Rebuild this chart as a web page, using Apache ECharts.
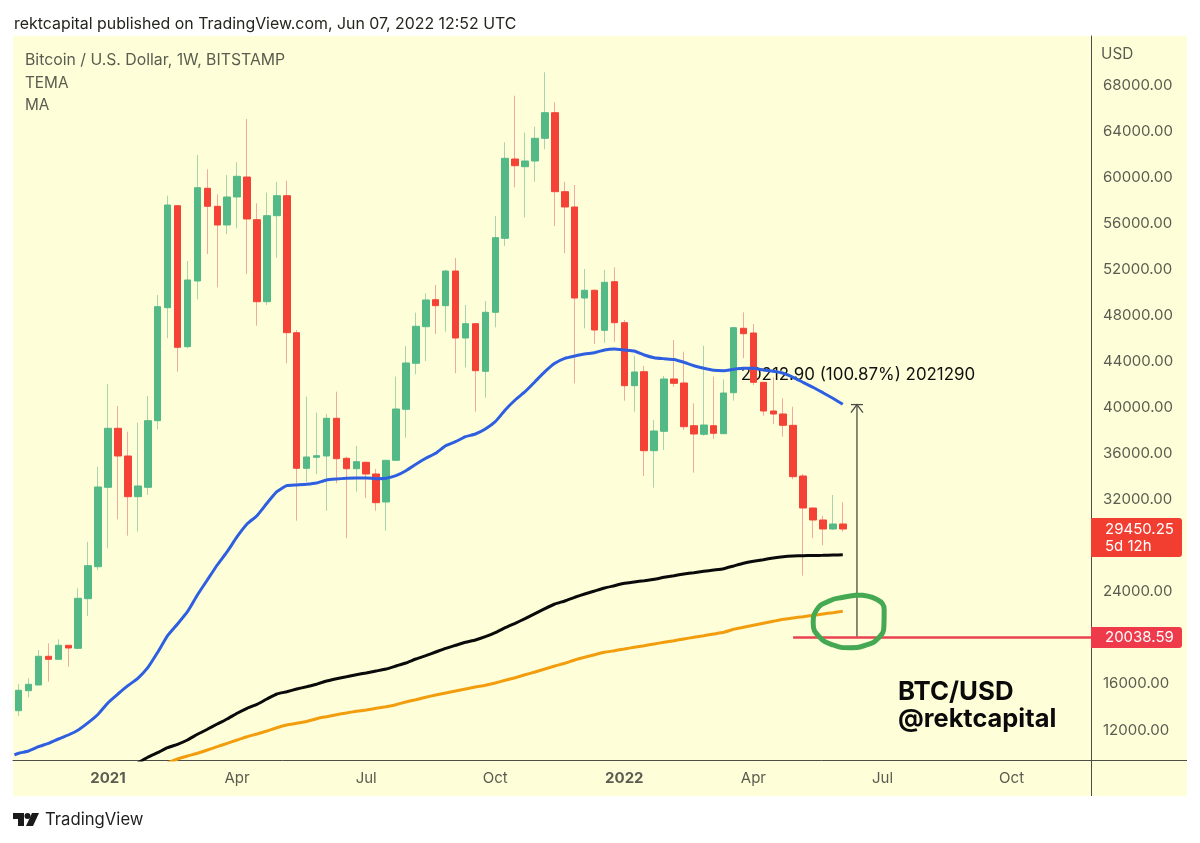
<!DOCTYPE html>
<html><head><meta charset="utf-8">
<style>html,body{margin:0;padding:0;background:#fff}#c{width:1200px;height:843px}</style>
<script src="https://cdn.jsdelivr.net/npm/echarts@6/dist/echarts.min.js"></script>
</head><body><div id="c"></div>
<script>
const weeks=['2020-11-02','2020-11-09','2020-11-16','2020-11-23','2020-11-30','2020-12-07','2020-12-14','2020-12-21','2020-12-28','2021-01-04','2021-01-11','2021-01-18','2021-01-25','2021-02-01','2021-02-08','2021-02-15','2021-02-22','2021-03-01','2021-03-08','2021-03-15','2021-03-22','2021-03-29','2021-04-05','2021-04-12','2021-04-19','2021-04-26','2021-05-03','2021-05-10','2021-05-17','2021-05-24','2021-05-31','2021-06-07','2021-06-14','2021-06-21','2021-06-28','2021-07-05','2021-07-12','2021-07-19','2021-07-26','2021-08-02','2021-08-09','2021-08-16','2021-08-23','2021-08-30','2021-09-06','2021-09-13','2021-09-20','2021-09-27','2021-10-04','2021-10-11','2021-10-18','2021-10-25','2021-11-01','2021-11-08','2021-11-15','2021-11-22','2021-11-29','2021-12-06','2021-12-13','2021-12-20','2021-12-27','2022-01-03','2022-01-10','2022-01-17','2022-01-24','2022-01-31','2022-02-07','2022-02-14','2022-02-21','2022-02-28','2022-03-07','2022-03-14','2022-03-21','2022-03-28','2022-04-04','2022-04-11','2022-04-18','2022-04-25','2022-05-02','2022-05-09','2022-05-16','2022-05-23','2022-05-30','2022-06-06'];
const opens=[13676,15412,15907,18399,18138,19354,19093,23399,26178,33071,38194,35789,32255,33071,38853,48664,57520,45278,50982,59030,57468,55844,58275,60011,56304,49185,56652,58388,46494,34721,35676,35789,39062,35589,34686,35242,34226,31795,35415,39843,43837,47015,49359,48838,51850,46033,47275,43142,48265,54689,61574,60906,61401,63371,65594,58735,57407,49506,50175,46702,50921,47362,41892,43108,36249,37933,42474,42127,38419,37673,38419,37725,41285,46876,46468,42187,39696,39435,38454,34052,31274,30232,29451,29885];
const closes=[15447,15968,18399,18138,19354,19119,23434,26265,33097,38194,35789,32255,33184,38853,48751,57581,45226,51069,59082,57468,55844,58275,60072,56365,49185,56652,58388,46494,34721,35702,35815,39062,35554,34686,35294,34226,31734,35415,39869,43863,47049,49333,48838,51850,46033,47275,43195,48265,54741,61635,60993,61401,63371,65594,58735,57407,49506,50175,46728,50869,47362,41892,43082,36249,37959,42474,42100,38333,37699,38480,37759,41258,46928,46407,42187,39696,39435,38454,33992,31274,30232,29451,29885,29450];
const lows=[13215,14839,15907,16193,18138,17496,19006,21897,25891,27775,30293,28869,29216,32403,38107,46007,43108,45139,49393,53326,50435,55063,55558,51590,47101,48899,53005,43837,30171,33557,34226,31040,33418,28643,32689,32142,31040,29303,35415,37377,42882,44037,46381,46580,42969,43490,39635,40850,46962,54021,59117,56513,59604,62416,55757,53387,42100,46876,45513,45626,45712,40590,39635,34052,33037,36310,41805,38046,34339,37551,37265,37725,40590,44271,41953,39287,38567,37464,33766,25396,28643,28036,29364,29216];
const highs=[15994,16489,18946,19527,19875,19354,24302,28348,34860,42040,40130,37898,38680,40998,49767,58388,57520,52719,61922,60680,58509,60185,61288,65047,57728,58649,59604,59690,46728,40937,39548,39435,41372,35728,36657,35294,34660,35415,42673,45339,48230,49914,50635,51937,52979,48899,47275,49246,56625,63024,67070,63858,64379,69102,66497,59604,59317,52024,50262,51937,52172,47596,44497,43602,38914,42734,45860,44844,40364,45365,42673,42448,46928,48265,47249,42187,42621,40798,40069,34226,31274,30606,32403,31769];
const temaStart='2020-10-30';
const tema=[9830,9977,10177,10550,10845,11219,11566,12000,12634,13363,14370,15126,15846,16489,17409,18746,20187,21203,22271,23721,25023,26325,27480,28782,29885,30606,31682,32689,33210,33271,33332,33445,33705,33792,33853,33879,33879,33818,33853,34079,34512,35068,35589,36023,36683,37030,37464,37699,38133,38767,39782,40651,41372,42240,43108,43837,44271,44471,44644,44757,44992,45078,44992,44905,44558,44323,44236,44167,43924,43629,43403,43229,43195,43316,43403,43403,43255,43142,42969,42621,42187,41753,41285,40798,40277];
const maBlack=[9135,9630,10029,10463,10758,11132,11627,12061,12521,12955,13450,13884,14231,14691,15126,15325,15560,15759,15968,16254,16454,16627,16801,16949,17122,17296,17556,17817,18164,18451,18772,19093,19354,19614,19814,20100,20448,20882,21264,21663,22097,22531,22939,23200,23521,23808,24068,24328,24528,24736,24849,24962,25084,25257,25396,25544,25657,25778,25891,26004,26238,26473,26647,26785,26933,27046,27107,27133,27150,27167,27194,27211];
const maOrange=[9135,9482,9743,9977,10264,10550,10845,11132,11418,11653,11913,12200,12434,12582,12738,12981,13155,13328,13476,13624,13736,13884,14023,14197,14431,14631,14839,15039,15212,15386,15560,15733,15881,16081,16315,16541,16801,17036,17296,17556,17791,18077,18312,18538,18746,18885,19032,19180,19319,19467,19614,19753,19901,20048,20187,20335,20482,20743,20916,21090,21264,21437,21611,21724,21837,21958,22071,22184,22306];
const priceTicks=[12000,16000,24000,32000,36000,40000,44000,48000,52000,56000,60000,64000,68000];
const timeTicks=['2021-01-04','2021-04-05','2021-07-05','2021-10-04','2022-01-03','2022-04-04','2022-07-04','2022-10-03'];
const timeLabels=['2021','Apr','Jul','Oct','2022','Apr','Jul','Oct'];
const priceMin=9395, priceMax=72253;
const viewStart='2020-10-29', viewEnd='2022-11-28';
const lastPrice=29450.25, lastCountdown='5d 12h';
const levelPrice=20038.59, levelStart='2022-05-02';
const arrowDate='2022-06-16', arrowTop=40251.49;
const measureText='20212.90 (100.87%) 2021290', measureDate='2022-03-26', measurePrice=42821;
const circleWeeks=[84.47,86.40,87.17,87.14,86.56,85.40,83.72,82.04,80.63,80.02,80.36,81.70,83.04,84.47];
const circlePrices=[23721,23347,22418,20969,19961,19380,19145,19380,20100,21264,22418,23226,23521,23721];

const T=s=>Date.parse(s+'T00:00:00Z');
const tMin=T(viewStart), tMax=T(viewEnd), t0=T(weeks[0]);
const WEEK=7*864e5;
const FONT='Inter, "Noto Sans", sans-serif';
const INK='#5b5b50', AXIS='#4d4d47', UP='#53b987', DOWN='#f44336', UPW='#a9d3ae', DOWNW='#f0aaa2';

const wickData=weeks.map((w,i)=>[T(w),opens[i],closes[i],lows[i],highs[i]]);
const bodyData=weeks.map((w,i)=>[T(w),opens[i],closes[i],Math.min(opens[i],closes[i]),Math.max(opens[i],closes[i])]);
const temaData=[[T(temaStart),tema[0]]].concat(weeks.map((w,i)=>[T(w),tema[i+1]]));
const blackData=maBlack.map((v,i)=>[T(weeks[12+i]),v]);
const orangeData=maOrange.map((v,i)=>[T(weeks[15+i]),v]);
const circleData=circleWeeks.map((w,i)=>[t0+w*WEEK,circlePrices[i]]);
const tickTimes=timeTicks.map(T);
const tags=[
 {p:lastPrice,lines:[lastPrice.toFixed(2),lastCountdown],fill:'#f23d31',top:11,h:39},
 {p:levelPrice,lines:[levelPrice.toFixed(2)],fill:'#ee3a4a',top:10.5,h:21}
];
const txt=(x,y,text,font,fill,extra)=>({type:'text',style:Object.assign({x,y,text,font,fill,textVerticalAlign:'middle'},extra||{})});
const chart=echarts.init(document.getElementById('c'),null,{renderer:'canvas'});
chart.setOption({
 animation:false,backgroundColor:'#fff',
 grid:{left:13,right:109,top:36,bottom:83,containLabel:false},
 xAxis:{type:'value',min:tMin,max:tMax,splitLine:{show:false},
  axisLine:{show:true,onZero:false,lineStyle:{color:AXIS,width:1}},axisTick:{show:false},
  axisLabel:{customValues:tickTimes,margin:11,color:INK,fontFamily:FONT,fontSize:15,hideOverlap:false,
   formatter:v=>{const l=timeLabels[tickTimes.indexOf(+v)]||'';return /^\d+$/.test(l)?'{b|'+l+'}':l;},
   rich:{b:{fontWeight:700,fontFamily:FONT,fontSize:15,color:INK}}}},
 yAxis:{type:'value',position:'right',min:priceMin,max:priceMax,splitLine:{show:false},
  axisLine:{show:true,onZero:false,lineStyle:{color:AXIS,width:1}},axisTick:{show:false},
  axisLabel:{customValues:priceTicks,margin:12,color:INK,fontFamily:FONT,fontSize:15,align:'left',formatter:v=>Number(v).toFixed(2)}},
 graphic:{elements:[
  {type:'rect',z:-10,silent:true,shape:{x:13,y:36,width:1174,height:760},style:{fill:'#feffd9'}},
  {type:'line',z:-5,shape:{x1:1091.5,y1:760,x2:1091.5,y2:796},style:{stroke:AXIS,lineWidth:1}},
  {type:'line',z:-5,shape:{x1:1091,y1:760.5,x2:1187,y2:760.5},style:{stroke:AXIS,lineWidth:1}},
  {type:'text',x:14,y:24,style:{text:'rektcapital published on TradingView.com, Jun 07, 2022 12:52 UTC',font:'15.9px '+FONT,fill:'#26261f',textVerticalAlign:'middle'}},
  {type:'text',x:25,y:60,style:{text:'Bitcoin / U.S. Dollar, 1W, BITSTAMP',font:'15.8px '+FONT,fill:INK,textVerticalAlign:'middle'}},
  {type:'text',x:25,y:83,style:{text:'TEMA',font:'15.3px '+FONT,fill:INK,textVerticalAlign:'middle'}},
  {type:'text',x:25,y:105,style:{text:'MA',font:'15.3px '+FONT,fill:INK,textVerticalAlign:'middle'}},
  {type:'text',x:1101,y:54,style:{text:'USD',font:'15.3px '+FONT,fill:INK,textVerticalAlign:'middle'}},
  {type:'text',x:898,y:692,style:{text:'BTC/USD',font:'700 25.8px '+FONT,fill:'#0a0a0a',textVerticalAlign:'middle'}},
  {type:'text',x:898,y:719,style:{text:'@rektcapital',font:'700 25.4px '+FONT,fill:'#0a0a0a',textVerticalAlign:'middle'}},
  {type:'polygon',shape:{points:[[13,813],[24,813],[24,826],[18,826],[18,819],[13,819]]},style:{fill:'#1a1a1a'}},
  {type:'circle',shape:{cx:27.5,cy:816,r:3},style:{fill:'#1a1a1a'}},
  {type:'polygon',shape:{points:[[32,813],[39,813],[33,826],[26,826]]},style:{fill:'#1a1a1a'}},
  {type:'text',x:45,y:820,style:{text:'TradingView',font:'16.7px '+FONT,fill:'#1f1f1f',textVerticalAlign:'middle'}}
 ]},
 series:[
  {type:'custom',name:'measure',z:1,clip:false,silent:true,encode:{x:0,y:1},data:[[T(measureDate),measurePrice]],
   renderItem:(p,api)=>{const c=api.coord([api.value(0),api.value(1)]);return txt(c[0],c[1],measureText,'16.9px '+FONT,'#111');}},
  {type:'candlestick',name:'wicks',z:2,barWidth:1,data:wickData,encode:{x:0,y:[1,2,3,4]},silent:true,
   itemStyle:{color:UPW,color0:DOWNW,borderColor:UPW,borderColor0:DOWNW,borderWidth:1}},
  {type:'candlestick',name:'bodies',z:3,barWidth:7,data:bodyData,encode:{x:0,y:[1,2,3,4]},silent:true,
   itemStyle:{color:UP,color0:DOWN,borderColor:UP,borderColor0:DOWN,borderWidth:1}},
  {type:'line',name:'TEMA',z:4,data:temaData,showSymbol:false,symbol:'none',smooth:0.15,lineStyle:{color:'#2e5fe0',width:3},silent:true},
  {type:'line',name:'MA black',z:4,data:blackData,showSymbol:false,symbol:'none',smooth:0.15,lineStyle:{color:'#0a0a0a',width:3},silent:true},
  {type:'line',name:'MA orange',z:4,data:orangeData,showSymbol:false,symbol:'none',smooth:0.15,lineStyle:{color:'#f29d0e',width:3},silent:true},
  {type:'line',name:'level',z:4,data:[[T(levelStart),levelPrice],[tMax,levelPrice]],showSymbol:false,symbol:'none',lineStyle:{color:'#e8434f',width:2.5},silent:true},
  {type:'custom',name:'arrow',z:4,clip:false,silent:true,encode:{x:0,y:1},data:[[T(arrowDate),levelPrice,arrowTop]],
   renderItem:(p,api)=>{const a=api.coord([api.value(0),api.value(1)]),b=api.coord([api.value(0),api.value(2)]);
    const s={stroke:AXIS,lineWidth:1.3,fill:null};
    return {type:'group',children:[
     {type:'line',shape:{x1:a[0],y1:a[1],x2:b[0],y2:b[1]},style:s},
     {type:'line',shape:{x1:b[0]-6,y1:b[1],x2:b[0]+6,y2:b[1]},style:s},
     {type:'polyline',shape:{points:[[b[0]-6,b[1]+8],[b[0],b[1]],[b[0]+6,b[1]+8]]},style:s}]};}},
  {type:'line',name:'circle',z:6,data:circleData,showSymbol:false,symbol:'none',smooth:0.5,clip:false,lineStyle:{color:'#45a852',width:5,cap:'round',join:'round'},silent:true},
  {type:'custom',name:'tags',z:7,clip:false,silent:true,encode:{x:0,y:1},data:tags.map(t=>[tMax,t.p]),
   renderItem:(p,api)=>{const t=tags[p.dataIndex],c=api.coord([api.value(0),api.value(1)]);
    const kids=[{type:'rect',shape:{x:c[0],y:c[1]-t.top,width:91,height:t.h,r:[0,3,3,0]},style:{fill:t.fill}}];
    t.lines.forEach((l,i)=>kids.push(txt(c[0]+14,c[1]+i*17.5,l,'15px '+FONT,'#fff')));
    return {type:'group',children:kids};}}
 ]
});
</script></body></html>
